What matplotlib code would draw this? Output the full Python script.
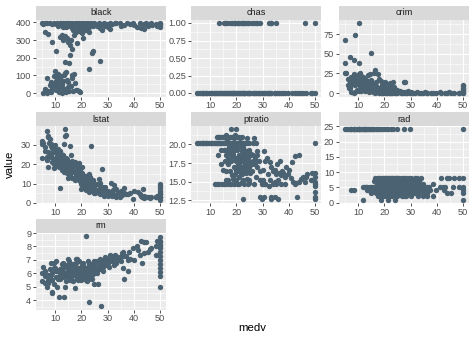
import matplotlib
matplotlib.use("Agg")
import matplotlib.pyplot as plt
from matplotlib.ticker import MultipleLocator, AutoMinorLocator, FormatStrFormatter

plt.rcParams["font.family"] = ["Liberation Sans", "DejaVu Sans"]

# ---------------- data (medv, value) ----------------
black_pts = [
    (5.0,396.9),(5.6,392.3),(6.3,396.9),(7.0,395.5),(8.1,396.9),(8.8,391.3),(9.5,396.9),(10.2,393.7),
    (10.9,396.9),(11.7,395.2),(12.3,396.9),(12.7,390.5),(13.1,396.9),(13.5,388.6),(13.9,396.9),(14.4,394.1),
    (14.9,396.9),(15.2,386.7),(15.6,396.9),(16.1,392.8),(16.6,396.9),(17.1,383.3),(17.5,396.9),(18.0,390.9),
    (18.5,396.9),(18.9,386.4),(19.3,396.9),(19.6,392.1),(20.0,396.9),(20.4,380.0),(20.8,396.9),(21.2,389.4),
    (21.7,396.9),(22.0,384.5),(22.6,396.9),(23.1,391.5),(23.6,396.9),(24.1,387.9),(24.7,396.9),(25.0,393.2),
    (26.6,396.9),(27.5,389.7),(28.7,396.9),(29.6,392.8),(30.8,396.9),(31.6,390.6),(32.9,396.9),(33.4,395.6),
    (34.9,396.9),(36.2,386.1),(37.3,396.9),(38.7,393.4),(39.8,396.9),(41.3,374.7),(42.3,396.9),(43.8,388.5),
    (44.8,396.9),(45.4,380.3),(46.7,396.9),(48.3,392.9),(48.8,377.1),(50.0,396.9),(50.0,388.2),(50.0,375.5),
    (50.0,394.0),(49.0,387.0),
    (13.0,376.0),(14.0,372.1),(15.0,378.1),(16.5,370.2),(18.2,377.0),(19.9,368.3),(21.4,377.6),(23.0,373.8),
    (24.4,379.7),(26.0,381.4),(19.0,365.1),(17.0,359.3),(22.2,360.0),(12.0,385.0),(11.0,380.1),(27.0,370.9),
    (29.0,382.3),(30.1,375.0),(35.0,381.0),(40.0,385.5),(42.8,368.0),(44.0,364.0),(47.0,386.0),
    (6.3,344.0),(7.4,334.0),(8.7,288.0),(10.4,240.0),(12.0,318.0),(12.6,330.0),(13.1,300.0),(13.8,324.0),
    (14.5,310.0),(15.0,290.0),(15.6,272.0),(16.1,302.0),(17.2,331.0),(18.0,345.0),(19.0,352.0),(20.1,340.0),
    (21.5,355.0),(23.0,348.0),(24.0,227.0),(24.6,236.0),(27.0,179.0),(23.0,135.0),(13.8,176.0),(15.2,172.0),
    (16.3,248.0),(15.8,216.0),(18.5,283.0),(20.5,312.0),(28.0,358.0),(31.0,362.0),
    (6.8,85.0),(7.0,0.3),(7.5,12.0),(8.0,45.0),(8.5,62.0),(8.8,25.0),(9.0,32.0),(9.5,96.0),(10.0,125.0),
    (10.2,70.0),(10.5,20.0),(10.8,42.0),(11.0,110.0),(11.2,60.0),(11.5,5.0),(12.0,80.0),(12.5,50.0),
    (12.8,3.0),(13.0,30.0),(13.2,66.0),(13.5,100.0),(13.8,112.0),(14.0,122.0),(14.2,8.0),(14.5,76.0),
    (15.0,60.0),(15.5,10.0),(16.0,40.0),(16.3,88.0),(16.5,100.0),(17.0,12.0),(17.2,109.0),(17.5,55.0),
    (18.0,20.0),(18.5,15.0),(19.0,10.0),(19.5,5.0),(6.0,25.0),(5.5,3.0),(9.7,48.0),(11.8,28.0),(13.4,18.0),
    (8.3,7.0),(12.3,95.0),(14.9,33.0),(10.9,85.0),
]

chas0_medv = [5.0,5.6,6.3,7.0,7.2,7.5,8.1,8.5,8.8,9.5,10.2,10.5,10.9,11.5,11.9,12.3,12.7,13.1,13.5,13.9,
              14.3,14.6,15.0,15.4,15.7,16.1,16.5,16.8,17.2,17.5,17.9,18.2,18.6,18.9,19.3,19.6,19.9,20.3,
              20.6,21.0,21.4,21.7,22.0,22.4,22.8,23.1,23.5,23.9,24.3,24.7,25.0,25.3,26.2,26.6,27.1,27.5,
              28.1,28.7,29.1,29.6,30.1,30.7,31.1,31.6,32.0,32.5,33.0,33.4,34.6,34.9,35.4,36.2,37.0,37.6,
              38.7,39.8,41.3,42.3,43.1,43.8,44.8,45.4,46.7,48.3,48.8,50.0]
chas1_medv = [13.4,15.3,15.6,16.2,17.0,17.8,18.4,19.0,19.4,19.6,20.2,20.7,21.2,21.7,22.2,22.7,23.0,
              23.3,24.0,24.4,25.0,26.0,26.7,27.5,28.0,29.0,32.4,33.1,33.2,35.2,46.0,50.0]

crim_pts = [
    (5.0,67.9),(5.0,38.4),(5.6,25.0),(7.0,45.7),(8.5,41.5),(8.8,73.5),(10.4,89.0),(10.4,37.7),(15.0,51.1),
    (16.3,28.7),(17.9,18.1),
    (5.0,25.0),(6.3,9.9),(7.0,14.0),(7.2,20.0),(7.4,15.0),(7.5,10.8),(8.1,20.0),(8.3,24.0),(8.4,12.0),
    (8.5,18.0),(8.7,14.3),(8.8,22.0),(9.5,20.0),(9.7,14.0),(10.2,24.0),(10.4,18.0),(10.5,16.0),(10.8,8.5),
    (10.9,11.0),(11.0,22.0),(11.3,18.0),(11.5,11.1),(11.7,15.0),(11.8,9.6),(11.9,5.8),(12.0,6.7),(12.1,7.0),
    (12.3,18.8),(12.5,10.0),(12.6,9.2),(12.7,13.2),(12.8,7.8),(13.0,5.2),(13.1,4.2),(13.3,8.2),(13.4,15.3),
    (13.5,6.4),(13.6,3.8),(13.8,9.5),(14.0,4.1),(14.1,7.4),(14.3,10.1),(14.5,2.4),(14.6,5.7),(14.9,12.2),
    (15.0,4.3),(15.2,6.3),(15.4,13.1),(15.6,3.6),(16.1,8.8),(16.4,9.2),(16.7,14.2),(17.1,5.7),(17.2,2.2),
    (17.8,4.9),(18.4,3.3),(19.0,8.7),(19.5,5.8),(19.9,12.0),(7.2,1.5),(8.3,0.5),(8.8,1.0),(10.2,2.0),
    (20.1,14.0),(19.1,9.9),(21.8,11.1),(17.5,23.7),(18.8,15.9),(16.1,25.9),(13.8,22.6),(12.0,20.7),
    (14.4,24.4),(10.9,25.9),(23.0,5.9),(19.7,8.2),(21.2,4.9),(22.9,2.3),(22.0,13.0),(23.5,14.0),
    (6.0,18.0),(7.0,7.0),(8.0,16.0),(9.0,10.0),(10.0,13.0),(11.0,5.0),(12.0,14.0),(13.0,17.0),(14.0,12.0),
    (15.0,9.0),(16.0,5.0),(17.0,9.0),(18.0,7.0),(19.0,3.0),(20.0,2.0),(21.0,2.0),(22.0,1.5),(23.0,2.5),
    (24.0,2.5),(26.0,2.0),(28.0,1.0),(30.0,1.5),(9.0,22.0),(11.0,12.0),(13.0,11.0),(16.0,2.0),(18.0,1.8),
    (15.0,16.0),(12.5,3.0),(14.0,1.0),(11.0,2.0),(9.5,4.0),(6.5,6.0),
    (15.6,1.2),(16.6,0.6),(17.4,0.8),(17.8,0.2),(18.2,0.7),(18.5,1.1),(18.9,0.1),(19.3,0.5),(19.6,0.3),
    (20.0,0.9),(20.4,0.6),(20.8,0.2),(21.2,0.3),(21.7,0.1),(22.0,0.5),(22.6,0.2),(23.1,0.1),(23.9,0.05),
    (24.4,0.3),(25.0,0.1),(26.6,0.1),(27.5,0.05),(28.7,0.1),(29.6,0.04),(30.1,0.1),(31.6,0.03),(33.1,0.1),
    (34.9,0.02),(36.2,0.1),(37.6,0.2),(39.8,0.1),(41.7,0.3),(43.8,0.05),(45.4,0.1),(48.3,0.4),(50.0,0.02),
    (20.0,3.7),(20.6,4.5),(21.4,6.2),(22.0,9.5),(22.6,2.9),(23.2,5.1),(23.7,8.0),(24.5,4.0),(25.0,3.2),
    (26.4,1.8),(27.1,0.8),(27.5,14.3),(27.9,13.5),(29.1,2.1),(30.7,0.5),(24.1,1.2),(25.3,0.8),(26.2,0.6),
    (28.1,0.3),(31.0,0.5),(32.5,0.8),(33.8,0.3),(35.4,1.5),(36.4,0.2),(38.7,0.1),(41.3,0.8),(43.1,0.5),
    (44.8,0.7),(46.7,0.3),(48.5,0.4),
    (50.0,4.9),(50.0,8.3),(50.0,9.9),(50.0,6.5),(50.0,2.0),(50.0,3.5),(50.0,1.5),(50.0,0.6),
]

lstat_pts = [
    (5.0,22.98),(5.0,30.59),(5.6,30.81),(6.3,26.77),(7.0,23.97),(7.2,34.37),(7.4,34.02),(7.5,26.45),
    (8.1,25.79),(8.3,24.09),(8.4,29.68),(8.5,23.79),(8.5,30.62),(8.7,29.97),(8.8,21.14),(9.5,22.6),
    (9.6,18.05),(9.7,20.34),(10.2,22.74),(10.4,27.38),(10.5,26.64),(10.8,24.16),(10.9,25.68),(5.0,31.99),
    (6.8,36.98),(7.0,22.11),(7.2,18.68),(10.2,19.78),(10.4,23.34),
    (11.0,23.6),(11.3,21.32),(11.5,18.76),(11.7,23.29),(11.8,22.88),(11.9,7.88),(12.0,21.0),(12.1,20.62),
    (12.3,25.4),(12.5,24.9),(12.7,18.71),(12.8,17.1),(13.0,19.37),(13.1,21.45),(13.3,16.14),(13.4,30.63),
    (13.5,18.35),(13.8,37.97),(13.8,34.77),(13.9,17.28),(14.1,35.0),(14.1,21.22),(14.3,16.51),(14.4,19.01),
    (14.5,15.55),(14.6,18.85),(14.9,17.64),(15.0,21.02),(15.2,16.03),(15.4,14.81),(15.6,14.67),(16.1,18.46),
    (16.2,24.56),(16.4,12.64),(16.7,20.08),(15.6,29.5),
    (17.1,19.52),(17.4,15.94),(17.8,13.61),(18.2,13.09),(18.4,16.35),(18.5,12.92),(18.9,15.71),(19.1,17.92),
    (19.4,13.27),(19.6,11.48),(19.9,9.5),(20.0,12.27),(20.3,10.59),(20.6,8.77),(21.0,9.69),(21.2,10.26),
    (21.4,13.83),(21.7,6.86),(22.0,11.34),(22.2,8.58),(22.6,12.03),(22.9,5.68),(23.1,7.39),(23.4,10.21),
    (23.7,29.55),(23.9,6.58),(24.1,7.26),(24.4,9.04),(24.7,5.33),(25.0,8.05),(25.3,4.97),(20.1,18.8),
    (19.3,20.45),(18.7,18.06),(21.7,14.1),(22.8,14.69),(20.4,15.37),(23.2,13.44),(24.3,11.66),(17.5,21.24),
    (16.5,21.52),
    (17.0,17.0),(18.0,14.5),(19.0,12.0),(20.0,11.0),(21.0,12.5),(22.0,9.8),(23.0,8.5),(24.0,7.0),(25.0,6.2),
    (26.0,5.5),(19.5,16.5),(18.0,19.0),(16.0,16.0),(15.0,13.0),(14.0,23.0),(13.0,25.0),(12.0,27.0),
    (11.0,28.0),(9.0,26.0),(8.0,33.0),(6.0,29.0),(22.5,10.8),(21.0,7.8),(20.0,7.0),(23.5,9.5),(24.5,11.0),
    (25.5,9.8),(27.0,10.2),(29.0,8.0),(30.0,5.9),(32.0,6.4),(34.0,5.6),(20.5,13.0),(19.0,14.5),
    (17.5,11.8),(15.5,19.8),(14.7,22.5),(13.6,20.5),(12.4,22.7),(11.4,24.5),(10.0,30.0),(9.0,28.5),
    (7.8,31.0),
    (26.2,6.72),(26.6,9.43),(27.1,4.59),(27.5,7.73),(27.9,17.6),(28.1,5.98),(28.7,3.59),(29.1,6.62),
    (29.6,4.85),(30.1,3.76),(30.5,4.56),(31.1,5.57),(31.6,3.53),(32.0,4.45),(32.5,9.22),(33.0,3.95),
    (33.4,2.94),(34.6,4.32),(34.9,3.11),(35.4,4.16),(36.2,5.21),(37.0,4.63),(37.6,4.7),(38.7,5.12),
    (26.7,12.1),(28.4,8.2),(31.2,10.5),(33.2,7.1),(35.2,6.3),(36.1,7.9),
    (39.8,1.92),(40.0,6.1),(41.7,5.49),(42.3,4.56),(43.1,2.88),(43.5,7.4),(44.0,3.7),(44.8,3.16),
    (45.4,3.16),(46.0,2.47),(46.7,2.98),(48.3,3.11),(48.5,2.96),(48.8,3.53),(42.8,3.32),(43.8,2.47),
    (50.0,1.73),(50.0,2.97),(50.0,3.16),(50.0,4.45),(50.0,4.63),(50.0,5.12),(50.0,6.36),(50.0,7.44),
    (50.0,8.88),(50.0,9.53),(50.0,3.26),
]

ptratio_level_20_2 = [5.0,5.6,6.3,7.0,7.2,7.5,8.1,8.5,8.8,9.5,10.2,10.5,10.9,11.5,11.9,12.3,12.7,13.1,
                      13.5,13.9,14.3,14.9,15.4,16.1,16.7,17.2,17.8,18.4,19.1,19.6,20.1,20.6,21.4,22.6,
                      23.2,25.0,27.5]
ptratio_pts = [
    (12.7,21.0),(13.1,21.0),(13.5,21.0),(13.9,21.0),(14.4,21.0),(15.0,21.0),(15.6,21.0),(16.6,21.0),
    (17.5,21.0),(18.2,21.0),(18.9,21.0),(19.6,21.0),(20.2,21.0),(21.0,21.0),(22.2,21.0),(24.0,20.9),
    (26.6,20.9),(17.8,22.0),(20.0,22.0),(19.4,21.2),(16.1,21.2),
    (15.6,19.2),(16.5,19.2),(17.4,18.7),(18.6,18.7),(19.3,19.2),(20.5,17.8),(21.7,17.9),(22.9,17.8),
    (23.9,18.3),(24.7,17.8),(25.0,16.9),(26.4,17.8),(28.7,17.8),(18.9,18.4),(20.0,16.6),(21.2,18.6),
    (22.0,19.1),(23.1,18.5),(24.4,18.4),(19.6,17.9),(20.6,17.4),(21.4,16.6),(22.5,15.2),(24.0,15.3),
    (25.3,16.1),(26.6,17.6),(27.1,18.0),(28.0,16.9),(29.1,16.4),(18.2,18.4),(17.1,19.6),(15.2,19.2),
    (16.1,16.4),(17.5,16.4),(18.5,15.9),(19.5,16.0),(20.8,16.4),(21.7,16.0),(23.6,16.8),(24.8,14.8),
    (26.6,14.7),(22.0,14.9),(21.0,14.7),(20.1,14.7),(19.1,14.7),(18.0,14.7),(17.1,14.7),(16.1,14.7),
    (15.2,14.7),(14.4,14.7),(13.4,14.7),(12.7,14.7),(11.9,14.7),(23.1,14.7),(24.3,14.7),(25.0,15.2),
    (29.6,14.7),(30.1,14.7),(20.3,16.9),(22.2,17.0),(23.3,17.4),(24.1,19.1),(26.2,18.6),(22.8,18.7),
    (21.9,19.7),(23.0,20.2),(19.0,20.9),(21.5,20.9),(22.6,19.6),(20.4,19.2),(18.0,19.7),(14.8,16.6),
    (14.0,17.4),(15.6,17.8),(17.0,18.0),(19.8,18.2),(25.5,18.7),(27.9,19.1),(23.8,16.2),(21.1,15.6),
    (18.8,15.3),(22.3,16.0),(26.0,16.4),(29.0,15.2),(27.5,15.6),
    (16.0,20.9),(17.0,20.9),(18.0,19.2),(19.0,19.6),(20.0,19.6),(21.0,18.4),(22.0,18.4),(23.0,19.2),
    (24.0,20.2),(25.0,19.2),(26.0,17.4),(27.0,17.4),(28.0,18.6),(19.0,17.0),(20.0,17.8),(21.0,17.4),
    (22.0,17.8),(23.0,17.8),(24.0,17.0),(18.0,17.8),(17.0,17.4),(16.0,18.6),(25.0,18.4),(26.5,20.2),
    (22.0,20.2),(21.0,20.2),(24.0,16.6),(25.0,17.6),(23.0,16.4),(20.0,15.2),(19.0,15.9),(17.0,15.2),
    (16.0,15.2),(14.0,19.2),(13.0,18.6),(30.0,16.6),(31.0,17.8),(32.0,16.0),(33.0,15.2),(34.0,16.4),
    (35.0,16.0),(36.0,15.2),(37.0,14.7),(39.0,16.9),(40.0,16.6),(41.0,15.5),
    (30.5,19.1),(31.5,18.2),(32.9,17.6),
    (33.4,17.0),(34.6,16.6),(35.4,17.4),(36.2,16.1),(37.0,15.9),(37.6,16.1),(38.7,15.6),(39.8,16.0),
    (41.7,14.9),(42.3,14.7),(43.8,18.6),(44.8,15.3),(45.4,15.6),(46.7,15.6),(48.3,15.2),(48.8,15.2),
    (50.0,20.2),(50.0,16.1),(50.0,15.6),(50.0,14.7),(50.0,14.4),(50.0,13.6),(50.0,13.0),(50.0,12.6),
    (50.0,14.9),(30.1,15.2),(31.1,14.7),(32.4,14.4),(33.2,13.0),(33.1,12.6),(34.9,13.0),(36.0,12.6),
    (29.8,12.6),(22.6,12.6),(30.7,13.0),(43.1,13.0),(44.0,14.9),(46.0,14.9),(41.3,17.6),(42.8,14.8),
    (38.7,14.7),(35.2,14.7),(31.0,14.7),(29.0,13.0),(37.3,16.4),(36.5,17.8),(34.9,14.9),(33.8,14.7),
    (42.5,18.5),(47.0,16.0),(49.0,16.2),
]

rad_level_24 = [5.0,5.6,6.3,7.0,7.2,7.5,8.1,8.3,8.5,8.8,9.5,9.7,10.2,10.4,10.5,10.9,11.3,11.7,11.9,12.1,
                12.5,12.7,13.1,13.4,13.8,14.1,14.5,14.9,15.2,15.6,16.1,16.7,17.2,17.8,18.4,19.1,19.9,20.6,
                21.4,22.4,23.2,25.0,27.5,29.8,50.0]
rad_pts = [
    (16.5,8),(18.9,8),(19.4,8),(20.1,8),(20.7,8),(21.2,8),(21.9,8),(22.8,8),(23.9,8),(24.8,8),(25.0,8),
    (26.6,8),(28.4,8),(30.1,8),(31.6,8),(32.5,8),(33.8,8),(41.7,8),(43.8,8),(44.8,8),(46.7,8),(48.3,8),
    (50.0,8),(17.5,8),(18.0,8),(19.8,8),(21.6,8),(22.4,8),(23.3,8),(24.4,8),(25.7,8),(27.4,8),(29.4,8),
    (16.1,7),(18.2,7),(19.3,7),(20.3,7),(21.7,7),(22.5,7),(23.6,7),(24.4,7),(25.3,7),(26.4,7),(27.1,7),
    (28.7,7),(29.6,7),(33.1,7),(17.2,7),(19.8,7),(21.0,7),(23.0,7),(25.0,7),(26.0,7),(30.5,7),(31.5,7),
    (17.4,6),(18.7,6),(19.8,6),(20.8,6),(21.6,6),(22.2,6),(22.9,6),(23.7,6),(24.7,6),(26.2,6),(29.1,6),
    (30.5,6),(32.0,6),(33.4,6),(34.9,6),(38.7,6),(18.0,6),(20.2,6),(21.2,6),(23.2,6),(24.2,6),(25.5,6),
    (27.5,6),(28.2,6),(31.0,6),
    (11.9,5),(12.7,5),(13.1,5),(13.5,5),(14.4,5),(15.0,5),(15.6,5),(16.6,5),(17.8,5),(18.5,5),(19.0,5),
    (19.6,5),(20.0,5),(20.4,5),(21.0,5),(21.4,5),(22.0,5),(22.6,5),(23.1,5),(23.8,5),(24.1,5),(25.0,5),
    (26.6,5),(27.5,5),(28.1,5),(29.0,5),(30.7,5),(31.1,5),(32.4,5),(33.2,5),(36.4,5),(37.2,5),(41.3,5),
    (42.3,5),(43.1,5),(46.0,5),(48.5,5),(50.0,5),(16.0,5),(17.2,5),(18.0,5),(20.8,5),(21.7,5),(22.3,5),
    (23.4,5),(24.5,5),(25.5,5),(26.0,5),(28.6,5),(29.6,5),(30.0,5),(33.8,5),(35.0,5),
    (7.2,4),(8.4,4),(13.3,4),(14.3,4),(15.4,4),(16.2,4),(17.1,4),(18.4,4),(19.5,4),(20.2,4),(20.6,4),
    (21.2,4),(21.7,4),(22.0,4),(22.8,4),(23.3,4),(24.0,4),(24.6,4),(25.0,4),(26.5,4),(28.0,4),(31.0,4),
    (31.5,4),(32.2,4),(33.3,4),(34.6,4),(37.3,4),(39.8,4),(42.8,4),(50.0,4),(15.8,4),(16.6,4),(17.6,4),
    (18.8,4),(19.0,4),(19.9,4),(21.0,4),(23.8,4),(25.5,4),(27.0,4),(29.0,4),(30.1,4),(35.0,4),(36.0,4),
    (15.0,3),(16.8,3),(18.3,3),(19.7,3),(20.9,3),(22.4,3),(23.4,3),(24.5,3),(27.0,3),(28.5,3),(30.8,3),
    (33.0,3),(34.9,3),(36.1,3),(44.0,3),(45.4,3),(50.0,3),(17.5,3),(19.2,3),(21.5,3),(23.0,3),(26.0,3),
    (29.5,3),(31.5,3),
    (17.6,2),(18.6,2),(19.2,2),(20.5,2),(21.8,2),(22.0,2),(24.3,2),(25.0,2),(26.7,2),(28.2,2),(32.9,2),
    (34.7,2),(36.2,2),(38.7,2),(19.7,2),(21.0,2),(23.0,2),(27.5,2),(30.0,2),
    (12.0,1),(18.9,1),(21.4,1),(24.0,1),(50.0,1),
]

rm_pts = [
    (5.0,5.45),(5.0,6.0),(5.6,6.5),(6.3,5.8),(7.0,5.0),(7.2,5.3),(7.4,5.5),(8.1,6.3),(8.3,6.8),(8.5,5.9),
    (8.8,4.5),(8.8,5.5),(9.5,6.8),(9.7,5.2),(10.2,6.2),(10.4,6.9),(10.5,5.7),(10.9,5.0),(11.5,4.2),
    (11.7,6.0),(11.8,5.9),(12.0,5.6),(12.7,6.1),(13.1,6.4),(13.4,4.2),(13.8,4.97),(14.0,5.4),(14.5,6.0),
    (15.0,5.8),(15.2,6.9),(15.6,5.5),(16.1,6.2),(16.7,6.5),(17.1,5.9),(17.4,6.1),(17.6,4.9),(17.8,7.1),
    (18.2,5.6),(18.4,6.4),(18.9,6.0),(19.4,5.9),(19.6,6.1),(20.0,6.0),(20.4,6.2),(20.6,5.7),(21.0,6.3),
    (21.2,5.9),(21.7,6.1),(21.9,8.78),(22.0,6.4),(22.2,5.4),(22.6,6.2),(22.9,6.0),(23.1,3.86),(23.1,6.5),
    (23.4,6.1),(23.9,6.4),(24.1,5.9),(24.4,6.6),(24.7,6.2),(25.0,6.5),(25.0,5.2),(26.6,6.6),(26.4,5.2),
    (27.1,6.7),(27.5,3.56),(27.9,6.9),(28.4,6.2),(28.7,7.0),(29.1,6.6),(29.6,7.0),(30.1,6.8),(30.5,7.1),
    (31.1,6.9),(31.6,7.3),(32.0,7.0),(32.4,6.6),(33.1,7.2),(33.4,7.3),(34.6,7.1),(34.9,7.2),(35.4,7.5),
    (36.2,7.3),(36.4,5.6),(37.0,7.3),(37.6,7.0),(38.7,7.1),(39.8,7.9),(41.3,8.0),(41.7,7.7),(42.3,7.4),
    (42.8,8.4),(43.1,6.8),(43.8,8.3),(44.0,7.5),(44.8,8.3),(45.4,7.6),(46.0,7.8),(46.7,7.9),(48.3,8.0),
    (48.5,7.4),(48.8,8.4),(50.0,8.7),(50.0,8.4),(50.0,8.3),(50.0,8.0),(50.0,7.6),(50.0,7.0),(50.0,6.7),
    (50.0,6.4),(50.0,6.1),(50.0,5.8),(50.0,4.97),(50.0,7.9),(50.0,8.1),(50.0,7.3),
    (12.3,5.9),(13.5,5.9),(14.4,6.1),(15.4,6.2),(16.5,5.8),(17.2,6.3),(18.5,6.0),(19.1,6.4),(19.9,5.8),
    (20.2,6.6),(21.4,6.0),(22.8,5.8),(23.7,6.3),(24.3,6.8),(25.3,6.0),(26.2,6.3),(28.1,6.5),(30.7,6.5),
    (33.2,6.8),(35.1,6.9),(13.0,6.1),(15.6,6.7),(17.0,5.4),(18.7,5.5),(19.3,6.9),(20.8,6.8),(22.4,6.9),
    (24.8,6.9),(23.0,5.6),(21.7,5.5),(16.0,5.9),(11.0,6.2),(9.6,6.4),(8.4,5.5),(7.5,5.9),(6.3,5.3),
    (15.0,7.1),(18.5,7.1),(9.0,4.6),(36.0,6.4),(37.9,6.2),
    (12.0,6.3),(13.0,5.7),(14.0,6.6),(15.0,6.4),(16.0,6.0),(17.0,6.7),(18.0,5.9),(19.0,6.2),(20.0,6.3),
    (21.0,6.5),(22.0,6.0),(23.0,6.7),(24.0,6.1),(25.0,6.7),(26.0,6.9),(27.0,7.1),(28.0,6.8),(29.0,7.2),
    (30.0,7.0),(31.0,7.0),(32.0,6.9),(33.0,7.4),(34.0,7.0),(20.0,5.5),(19.0,5.6),(18.0,6.8),(16.0,5.5),
    (14.0,5.8),(13.0,6.8),(11.0,5.6),(10.0,6.4),(12.5,6.7),(9.0,6.0),(6.0,6.2),(22.0,5.8),(24.0,5.6),
    (26.0,6.0),(27.0,6.3),(31.0,7.4),(36.0,7.6),(38.0,7.6),(40.0,7.0),
]

panel_names = ["black", "chas", "crim", "lstat", "ptratio", "rad", "rm"]

# ---------------------------------------------------------------------------
def unzip(pts):
    return [p[0] for p in pts], [p[1] for p in pts]

series = {
    "black": unzip(black_pts),
    "chas": (chas0_medv + chas1_medv, [0] * len(chas0_medv) + [1] * len(chas1_medv)),
    "crim": unzip(crim_pts),
    "lstat": unzip(lstat_pts),
    "ptratio": (ptratio_level_20_2 + unzip(ptratio_pts)[0],
                [20.2] * len(ptratio_level_20_2) + unzip(ptratio_pts)[1]),
    "rad": (rad_level_24 + unzip(rad_pts)[0], [24] * len(rad_level_24) + unzip(rad_pts)[1]),
    "rm": unzip(rm_pts),
}
y_major = {"black": (100, "%d"), "chas": (0.25, "%.2f"), "crim": (25, "%d"), "lstat": (10, "%d"),
           "ptratio": (2.5, "%.1f"), "rad": (5, "%d"), "rm": (1, "%d")}

W, H = 474, 338
fig = plt.figure(figsize=(W / 100, H / 100), dpi=100)
fig.patch.set_facecolor("white")


def px_axes(l, t, w, h):
    return fig.add_axes([l / W, 1 - (t + h) / H, w / W, h / H])


col_left = [36, 191, 339]
pw = 130
strip_h = 14
panel_h = 77
row_top = [5.5, 112, 218.5]
point_color = "#4B6272"

for i, name in enumerate(panel_names):
    r, c = divmod(i, 3)
    l = col_left[c]
    t = row_top[r]
    sax = px_axes(l, t, pw, strip_h)
    sax.set_facecolor("#D9D9D9")
    sax.set_xticks([]); sax.set_yticks([])
    for s in sax.spines.values():
        s.set_visible(False)
    sax.text(0.5, 0.5, name, ha="center", va="center", fontsize=6.6, color="#1A1A1A",
             transform=sax.transAxes)

    ax = px_axes(l, t + strip_h, pw, panel_h)
    ax.set_facecolor("#EBEBEB")
    for s in ax.spines.values():
        s.set_visible(False)
    x, y = series[name]
    ax.scatter(x, y, s=15, color=point_color, linewidths=0, zorder=3, clip_on=True)
    ax.margins(0.05)
    ax.xaxis.set_major_locator(MultipleLocator(10))
    ax.xaxis.set_minor_locator(AutoMinorLocator(2))
    step, fmt = y_major[name]
    ax.yaxis.set_major_locator(MultipleLocator(step))
    ax.yaxis.set_major_formatter(FormatStrFormatter(fmt))
    ax.yaxis.set_minor_locator(AutoMinorLocator(2))
    ax.grid(which="major", color="white", linewidth=0.8, zorder=1)
    ax.grid(which="minor", color="white", linewidth=0.4, zorder=1)
    ax.set_axisbelow(True)
    ax.tick_params(which="major", length=2, width=0.6, color="#333333", labelsize=6.6,
                   labelcolor="#4D4D4D", pad=1.5)
    ax.tick_params(which="minor", length=0)

fig.text(0.5 * (36 + 469) / W, 1 - 328 / H, "medv", ha="center", va="center", fontsize=8.2,
         color="black")
fig.text(9.5 / W, 1 - 164 / H, "value", ha="center", va="center", rotation=90, fontsize=8.2,
         color="black")

fig.savefig("out.png", dpi=100, facecolor="white")
